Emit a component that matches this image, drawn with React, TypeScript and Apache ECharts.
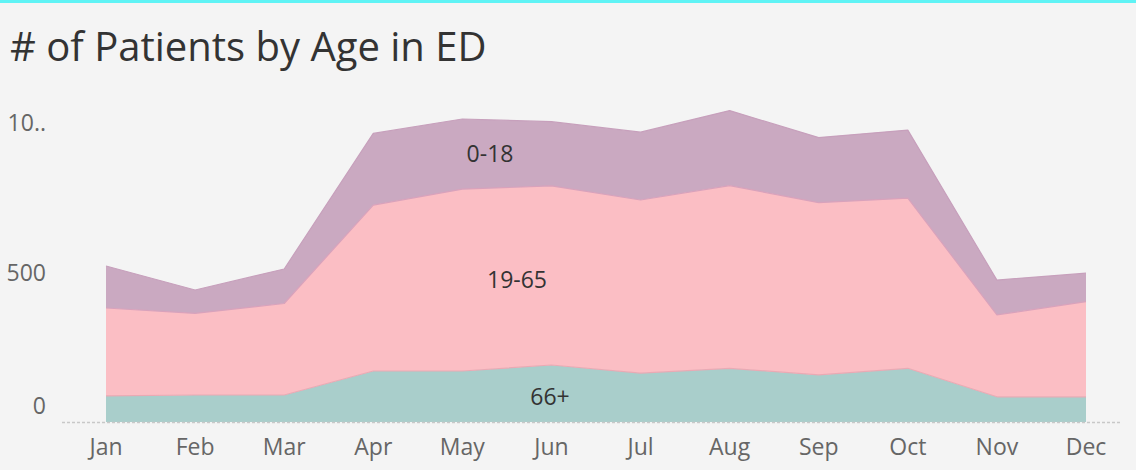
import React, { useEffect, useRef } from "react";
import * as echarts from "echarts";

const months = ["Jan", "Feb", "Mar", "Apr", "May", "Jun", "Jul", "Aug", "Sep", "Oct", "Nov", "Dec"];
const age66plus = [87, 90, 90, 170, 170, 190, 163, 179, 157, 179, 84, 84];
const age19to65 = [293, 272, 305, 553, 606, 597, 577, 609, 574, 567, 273, 317];
const age0to18 = [140, 78, 115, 239, 234, 214, 226, 250, 217, 227, 116, 95];
const yTickLabels: Record<number, string> = { 0: "0", 500: "500", 1000: "10.." };

const FONT = "'Open Sans', 'DejaVu Sans', sans-serif";

export default function App() {
  const ref = useRef<HTMLDivElement>(null);

  useEffect(() => {
    document.body.style.margin = "0";
    const chart = echarts.init(ref.current!, null, { renderer: "svg" });
    const mk = (name: string, data: number[], fill: string, line: string) => ({
      name,
      type: "line",
      stack: "total",
      data,
      symbol: "none",
      lineStyle: { width: 1.2, color: line },
      areaStyle: { color: fill, opacity: 1 },
      emphasis: { disabled: true },
    });
    chart.setOption({
      animation: false,
      backgroundColor: "#f4f4f4",
      grid: { left: 106, right: 50, top: 92, bottom: 48 },
      xAxis: {
        type: "category",
        data: months,
        boundaryGap: false,
        axisLine: { show: false },
        axisTick: { show: false },
        axisLabel: { color: "#666", fontSize: 23, fontFamily: FONT, margin: 12 },
      },
      yAxis: {
        type: "value",
        min: 0,
        max: 1100,
        interval: 500,
        splitLine: { show: false },
        axisLine: { show: false },
        axisTick: { show: false },
        axisLabel: {
          color: "#666",
          fontSize: 23,
          fontFamily: FONT,
          margin: 60,
          showMaxLabel: false,
          formatter: (v: number) => (v === 0 ? "{z|0}" : yTickLabels[v] ?? ""),
          rich: {
            z: { color: "#666", fontSize: 23, fontFamily: FONT, padding: [0, 0, 34, 0] },
          },
        },
      },
      series: [
        mk("66+", age66plus, "#a9cecb", "#e9aab4"),
        mk("19-65", age19to65, "#fbbec4", "#d9a2bb"),
        mk("0-18", age0to18, "#caa9c1", "#c7a0bc"),
      ],
      graphic: [
        { type: "rect", left: 0, top: 0, shape: { width: 1136, height: 3 }, style: { fill: "#5ff3f5" } },
        {
          type: "text",
          left: 10,
          top: 25,
          style: { text: "# of Patients by Age in ED", fill: "#333", font: `40px ${FONT}` },
        },
        {
          type: "line",
          shape: { x1: 62, y1: 422.5, x2: 1120, y2: 422.5 },
          style: { stroke: "#c8c8c8", lineWidth: 1.5, lineDash: [3, 2] },
          z: 10,
        },
        {
          type: "text",
          x: 490,
          y: 153,
          style: { text: "0-18", fill: "#333", font: `23px ${FONT}`, align: "center", verticalAlign: "middle" },
          z: 10,
        },
        {
          type: "text",
          x: 517,
          y: 279,
          style: { text: "19-65", fill: "#333", font: `23px ${FONT}`, align: "center", verticalAlign: "middle" },
          z: 10,
        },
        {
          type: "text",
          x: 550,
          y: 396,
          style: { text: "66+", fill: "#333", font: `23px ${FONT}`, align: "center", verticalAlign: "middle" },
          z: 10,
        },
      ],
    });
    return () => chart.dispose();
  }, []);

  return <div ref={ref} style={{ width: 1136, height: 470 }} />;
}
